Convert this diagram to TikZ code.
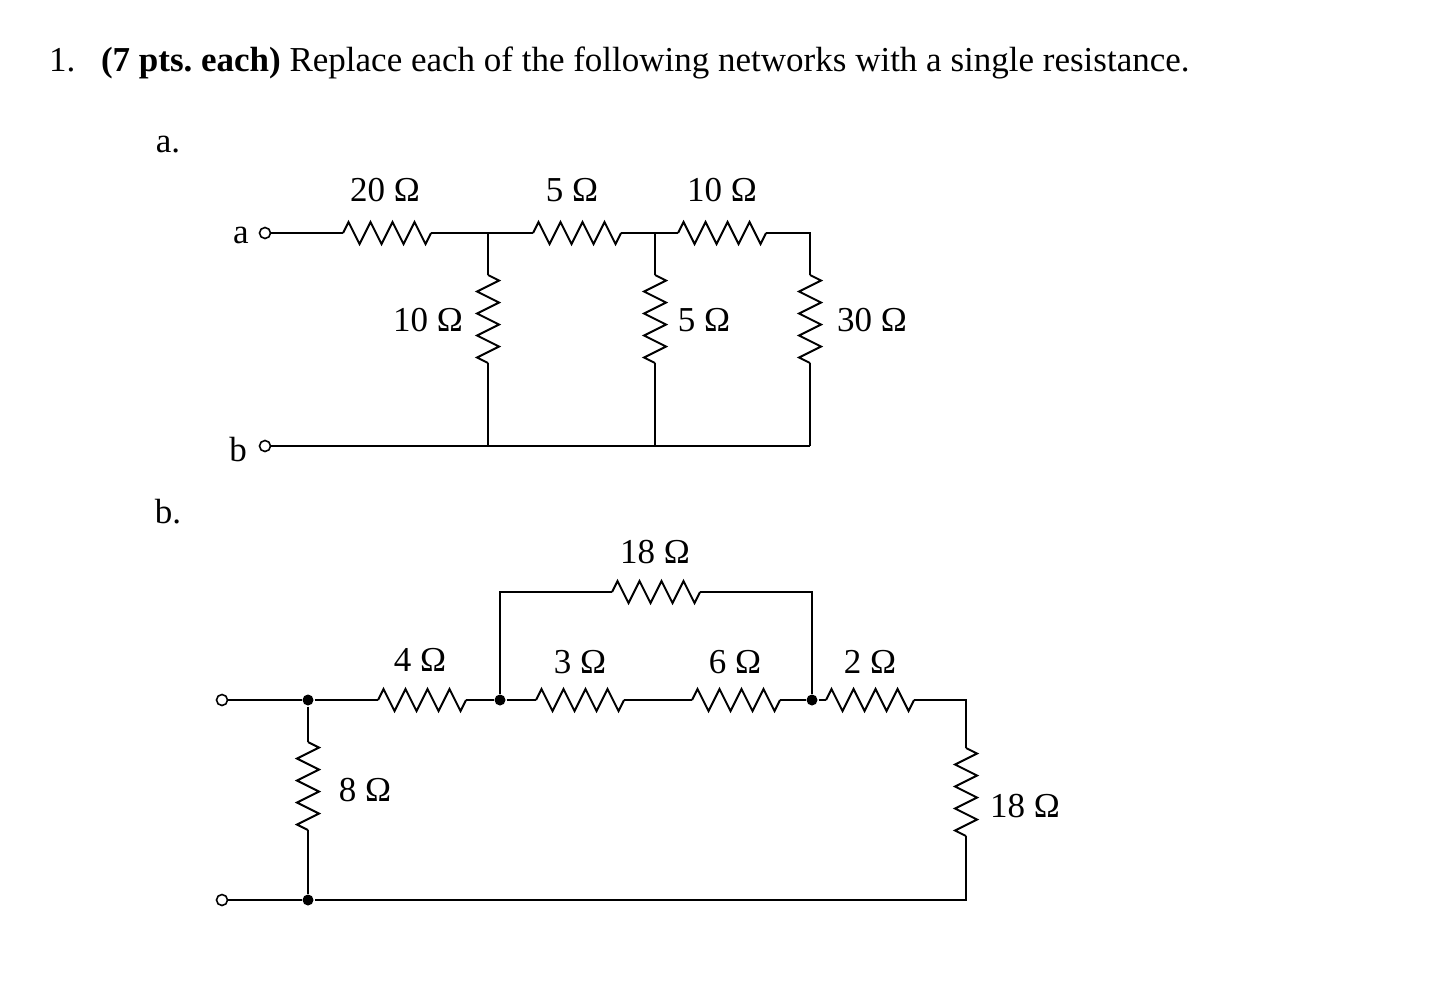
\documentclass[tikz,border=0pt]{standalone}
\usepackage{fontspec}
\setmainfont{Liberation Serif}
\usetikzlibrary{decorations.pathmorphing}
\begin{document}
\begin{tikzpicture}[x=1pt,y=-1pt,line width=2pt,
  res/.style={decorate,decoration={zigzag,amplitude=11pt,segment length=22pt}},
  lbl/.style={font=\fontsize{35}{40}\selectfont,inner sep=0pt},
  term/.style={circle,draw,fill=white,minimum size=11pt,inner sep=0pt,line width=1.6pt},
  dot/.style={circle,fill,minimum size=11pt,inner sep=0pt}]
\useasboundingbox (0,0) rectangle (1442,988);
\node[lbl,anchor=base west] (num) at (48,71) {1.};
\node[lbl,anchor=base west] (title) at (100,71) {\textbf{(7 pts.\ each)} Replace each of the following networks with a single resistance.};
\node[lbl] (la) at (168,145) {a.};
\node[lbl] (lb) at (168,512) {b.};
% circuit a
\node[term] (ta) at (265,233) {};
\node[term] (tb) at (265,446) {};
\node[lbl] (na) at (241,235) {a};
\node[lbl] (nb) at (238,450) {b};
\coordinate (r1s) at (343,233); \coordinate (r1e) at (431,233);
\coordinate (n1) at (488,233);
\coordinate (r2s) at (533,233); \coordinate (r2e) at (621,233);
\coordinate (n2) at (655,233);
\coordinate (r3s) at (678,233); \coordinate (r3e) at (766,233);
\coordinate (n3) at (810,233);
\coordinate (v1s) at (488,275); \coordinate (v1e) at (488,363);
\coordinate (v2s) at (655,275); \coordinate (v2e) at (655,363);
\coordinate (v3s) at (810,275); \coordinate (v3e) at (810,363);
\coordinate (b1) at (488,446); \coordinate (b2) at (655,446); \coordinate (b3) at (810,446);
\draw (ta) -- (r1s); \draw[res] (r1s) -- (r1e); \draw (r1e) -- (r2s);
\draw[res] (r2s) -- (r2e); \draw (r2e) -- (r3s); \draw[res] (r3s) -- (r3e);
\draw (r3e) -- (n3) -- (v3s); \draw[res] (v3s) -- (v3e); \draw (v3e) -- (b3);
\draw (n1) -- (v1s); \draw[res] (v1s) -- (v1e); \draw (v1e) -- (b1);
\draw (n2) -- (v2s); \draw[res] (v2s) -- (v2e); \draw (v2e) -- (b2);
\draw (tb) -- (b3);
\node[lbl] at (385,190) {20 Ω};
\node[lbl] at (572,190) {5 Ω};
\node[lbl] at (722,190) {10 Ω};
\node[lbl] at (428,320) {10 Ω};
\node[lbl] at (704,320) {5 Ω};
\node[lbl] at (872,320) {30 Ω};
% circuit b
\node[term] (tc) at (222,700) {};
\node[term] (td) at (222,900) {};
\node[dot] (d1) at (308,700) {};
\node[dot] (d2) at (308,900) {};
\node[dot] (d3) at (500,700) {};
\node[dot] (d4) at (812,700) {};
\coordinate (q1s) at (378,700); \coordinate (q1e) at (466,700);
\coordinate (q2s) at (536,700); \coordinate (q2e) at (624,700);
\coordinate (q3s) at (692,700); \coordinate (q3e) at (780,700);
\coordinate (q4s) at (826,700); \coordinate (q4e) at (914,700);
\coordinate (c1) at (966,700); \coordinate (c2) at (966,900);
\coordinate (w1s) at (966,748); \coordinate (w1e) at (966,836);
\coordinate (w2s) at (308,742); \coordinate (w2e) at (308,830);
\coordinate (t1) at (500,592); \coordinate (t2) at (812,592);
\coordinate (q5s) at (612,592); \coordinate (q5e) at (700,592);
\draw (tc) -- (d1) -- (q1s); \draw[res] (q1s) -- (q1e); \draw (q1e) -- (d3) -- (q2s);
\draw[res] (q2s) -- (q2e); \draw (q2e) -- (q3s); \draw[res] (q3s) -- (q3e);
\draw (q3e) -- (d4) -- (q4s); \draw[res] (q4s) -- (q4e); \draw (q4e) -- (c1) -- (w1s);
\draw[res] (w1s) -- (w1e); \draw (w1e) -- (c2) -- (d2) -- (td);
\draw (d1) -- (w2s); \draw[res] (w2s) -- (w2e); \draw (w2e) -- (d2);
\draw (d3) -- (t1) -- (q5s); \draw[res] (q5s) -- (q5e); \draw (q5e) -- (t2) -- (d4);
\node[lbl] at (655,552) {18 Ω};
\node[lbl] at (420,660) {4 Ω};
\node[lbl] at (580,662) {3 Ω};
\node[lbl] at (735,662) {6 Ω};
\node[lbl] at (870,662) {2 Ω};
\node[lbl] at (365,790) {8 Ω};
\node[lbl] at (1025,806) {18 Ω};
\end{tikzpicture}
\end{document}
